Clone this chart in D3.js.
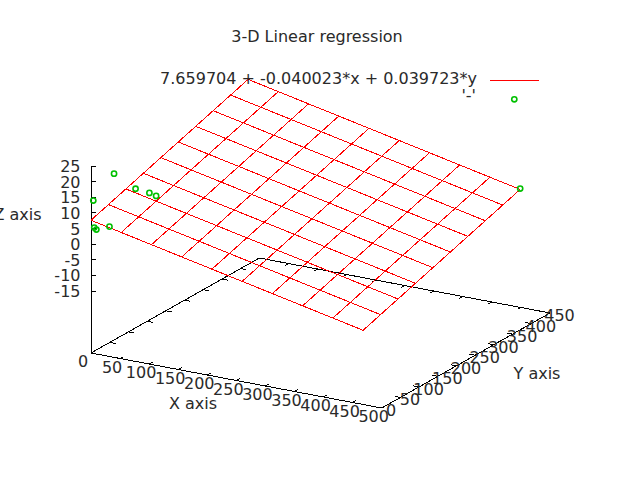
<!DOCTYPE html>
<html><head><meta charset="utf-8">
<script src="https://cdn.jsdelivr.net/npm/d3@7/dist/d3.min.js"></script>
<style>html,body{margin:0;background:#fff}svg{display:block}text{font-family:"DejaVu Sans";font-size:16px;fill:#2a2a2a}</style>
</head><body><svg id="c" width="640" height="480"></svg>
<script>
const titleText = "3-D Linear regression";
const fitLabel = "7.659704 + -0.040023*x + 0.039723*y";
const dataLabel = "'-'";
const planeCoef = [7.659704, -0.040023, 0.039723];
const xTicks = [0,50,100,150,200,250,300,350,400,450,500];
const yTicks = [0,50,100,150,200,250,300,350,400,450];
const zTicks = [25,20,15,10,5,0,-5,-10,-15];
const meshX = [0,52,104,156,208,260,312,364,416,468];
const meshY = [0,46.67,93.33,140,186.67,233.33,280,326.67,373.33,420];
const pointsX = [3,4.3,7,24,30,58,76,85,468];
const pointsY = [1.5,2,3.5,12,15,29,38,42,420];
const pointsZ = [13.96,5.33,4.69,5.65,22.6,17.8,16.5,15.6,5.9];

const svg = d3.select("#c");
const ox = 91, oy = 353, zFloor = -34.8;
const xToH = d3.scaleLinear([0,500],[0,290.7]), xToV = d3.scaleLinear([0,500],[0,55]);
const yToH = d3.scaleLinear([0,450],[0,168.3]), yToV = d3.scaleLinear([0,450],[0,-95]);
const zToV = d3.scaleLinear([zFloor,25],[0,-187]);
const P = (x,y,z=zFloor)=>[ox+xToH(x)+yToH(y), oy+xToV(x)+yToV(y)+zToV(z)];
const line = d3.line();
const path = (pts,color,w)=>svg.append("path").attr("d",line(pts)).attr("fill","none").attr("stroke",color)
  .attr("stroke-width",w).attr("shape-rendering","crispEdges");
const label = (x,y,t,a="middle")=>svg.append("text").attr("x",x).attr("y",y).attr("text-anchor",a).attr("dominant-baseline","central").text(t);
const plane = (x,y)=>planeCoef[0]+planeCoef[1]*x+planeCoef[2]*y;

// back border
path([P(0,0),P(0,450)],"#000",1);
path([P(0,450),P(500,450)],"#000",1);
// front border
path([P(0,0),P(500,0)],"#000",1);
path([P(500,0),P(500,450)],"#000",1);
// z axis
path([P(0,0),P(0,0,25)],"#000",1);
zTicks.forEach(z=>{const p=P(0,0,z);path([p,[p[0]+5,p[1]]],"#000",1);label(p[0]-10.5,p[1]+0.5,z,"end");});
// ticks
xTicks.slice(1,-1).forEach(x=>{path([P(x,0),P(x,9)],"#000",1);path([P(x,450),P(x,441)],"#000",1);});
yTicks.slice(1,-1).forEach(y=>{path([P(500,y),P(490,y)],"#000",1);path([P(0,y),P(10,y)],"#000",1);});
xTicks.forEach(x=>{const p=P(x,0);label(p[0]-8,p[1]+8.5,x);});
yTicks.forEach(y=>{const p=P(500,y);label(p[0]+9.5,p[1]+2.5,y);});
// mesh
meshY.forEach(y=>path(meshX.map(x=>P(x,y,plane(x,y))),"#f00",1));
meshX.forEach(x=>path(meshY.map(y=>P(x,y,plane(x,y))),"#f00",1));
// points
const mark = (x,y)=>svg.append("circle").attr("cx",x).attr("cy",y).attr("r",2.6).attr("fill","none").attr("stroke","#00c000").attr("stroke-width",1.6);
pointsX.forEach((x,i)=>{const p=P(x,pointsY[i],pointsZ[i]);mark(p[0],p[1]);});
// text
label(317,36,titleText);
label(477,78,fitLabel,"end");
path([[490,80],[539,80]],"#f00",1);
label(476,95,dataLabel,"end");
mark(514.3,99.3);
label(193,403,"X axis");
label(537,373,"Y axis");
label(41.5,214,"Z axis","end");
</script></body></html>
